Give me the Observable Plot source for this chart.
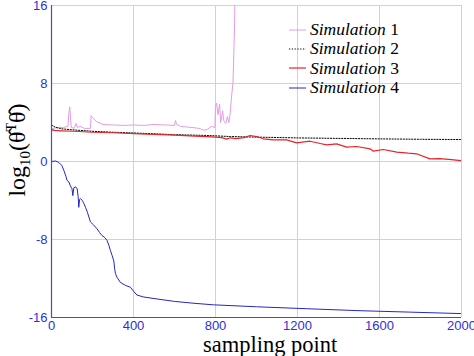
<!DOCTYPE html>
<html>
<head>
<meta charset="utf-8">
<script src="https://cdn.jsdelivr.net/npm/d3@7"></script>
<script src="https://cdn.jsdelivr.net/npm/@observablehq/plot@0.6"></script>
<style>
  html, body { margin: 0; padding: 0; background: #fff; }
  #wrap { position: relative; width: 474px; height: 356px; overflow: hidden; }
  .lbl { position: absolute; font-family: "Liberation Serif", serif; color: #000; white-space: nowrap; }
  #legend { position: absolute; left: 289px; top: 20px; font-family: "Liberation Serif", serif; font-size: 17.5px; }
  #legend .row { display: flex; align-items: center; height: 19.3px; }
  #legend svg { margin-right: 4px; }
  #legend i { font-style: italic; }
</style>
</head>
<body>
<div id="wrap"></div>
<script>
// ---- data ----
const xTicks = [0, 400, 800, 1200, 1600, 2000];
const yTicks = [-16, -8, 0, 8, 16];
const seriesNames = ["Simulation 1", "Simulation 2", "Simulation 3", "Simulation 4"];

const sim1X = [0, 10, 30, 60, 80, 85, 89, 93, 96, 110, 120, 125, 140, 160, 190, 193, 200, 220, 250, 300, 350, 400, 450, 500, 550, 600, 605, 610, 630, 680, 720, 745, 760, 780, 797, 800, 805, 812, 820, 825, 835, 840, 850, 858, 865, 872, 878, 885, 888, 893, 897];
const sim1Y = [3.0, 3.4, 3.5, 3.5, 3.6, 5.0, 5.6, 4.5, 3.5, 3.4, 3.9, 3.5, 3.6, 3.4, 3.4, 4.7, 4.5, 4.1, 3.8, 3.75, 3.7, 3.75, 3.7, 3.8, 3.75, 3.7, 4.2, 3.8, 3.6, 3.5, 3.4, 3.2, 3.3, 3.6, 3.5, 5.6, 6.0, 4.8, 5.9, 4.0, 5.2, 4.2, 3.9, 4.6, 4.0, 5.0, 6.6, 8.0, 10.0, 14.0, 20.0];

const sim2X = [0, 20, 50, 100, 200, 300, 433, 600, 758, 872, 1000, 1200, 1400, 1600, 1800, 2000];
const sim2Y = [3.75, 3.5, 3.35, 3.25, 3.1, 3.0, 2.9, 2.75, 2.67, 2.56, 2.5, 2.42, 2.37, 2.32, 2.28, 2.25];

const sim3X = [0, 10, 50, 109, 200, 300, 433, 600, 700, 758, 800, 830, 855, 872, 900, 940, 969, 1001, 1034, 1083, 1147, 1196, 1261, 1310, 1343, 1391, 1440, 1489, 1554, 1570, 1619, 1684, 1740, 1781, 1846, 1895, 1950, 2000];
const sim3Y = [3.35, 3.2, 3.15, 3.1, 3.0, 2.95, 2.84, 2.7, 2.6, 2.56, 2.5, 2.45, 2.3, 2.43, 2.35, 2.45, 2.67, 2.56, 2.33, 2.22, 2.22, 1.91, 2.08, 1.85, 1.71, 1.81, 1.47, 1.54, 1.3, 1.06, 1.23, 0.96, 0.85, 0.79, 0.27, 0.3, 0.2, 0.08];

const sim4X = [0, 20, 36, 50, 60, 70, 76, 85, 92, 100, 104, 109, 118, 125, 130, 133, 137, 141, 150, 158, 166, 175, 190, 205, 222, 235, 247, 260, 271, 280, 287, 295, 304, 308, 312, 320, 336, 360, 385, 400, 417, 450, 515, 600, 700, 790, 1000, 1245, 1500, 1750, 2000];
const sim4Y = [0, 0.05, -0.1, -0.4, -0.9, -1.5, -1.95, -2.1, -2.5, -2.8, -3.5, -2.7, -2.6, -2.8, -3.6, -4.7, -3.9, -3.8, -4.0, -4.3, -4.7, -5.2, -6.2, -6.5, -6.9, -7.3, -7.6, -7.8, -8.1, -8.6, -9.1, -9.6, -10.2, -11.0, -11.5, -11.9, -12.4, -12.7, -12.9, -13.3, -13.7, -13.9, -14.1, -14.35, -14.55, -14.7, -14.9, -15.1, -15.3, -15.45, -15.6];

// ---- styles ----
const styles = [
  {stroke: "#e49ce4", strokeWidth: 1, dash: null},
  {stroke: "#000000", strokeWidth: 1, dash: "1.2,1.6"},
  {stroke: "#e4262a", strokeWidth: 1.2, dash: null},
  {stroke: "#2626c4", strokeWidth: 1, dash: null}
];
const xs = [sim1X, sim2X, sim3X, sim4X];
const ys = [sim1Y, sim2Y, sim3Y, sim4Y];
const tables = xs.map((X, i) => X.map((x, j) => ({x, y: ys[i][j]})));

const axisBlue = "#4646e0";
const tickBlue = "#2f2fd6";
const fmt = d => String(d);

const chart = Plot.plot({
  width: 474,
  height: 356,
  marginLeft: 51,
  marginRight: 13,
  marginTop: 5,
  marginBottom: 39,
  style: {background: "#fff", overflow: "visible"},
  x: {domain: [0, 2000]},
  y: {domain: [-16, 16]},
  marks: [
    Plot.gridX(xTicks, {stroke: "#cfcfea", strokeOpacity: 1}),
    Plot.gridY(yTicks, {stroke: "#cfcfea", strokeOpacity: 1}),
    ...tables.map((t, i) => Plot.line(t, {
      x: "x", y: "y", clip: true,
      stroke: styles[i].stroke, strokeWidth: styles[i].strokeWidth,
      strokeDasharray: styles[i].dash
    })),
    Plot.ruleX([0], {stroke: axisBlue, strokeWidth: 1.2}),
    Plot.ruleY([-16], {stroke: axisBlue, strokeWidth: 1.2}),
    Plot.axisX(xTicks, {tickSize: 0, tickPadding: 3, label: null, tickFormat: fmt, fill: tickBlue, fontSize: 13, fontFamily: "Liberation Sans, Arial, sans-serif"}),
    Plot.axisY(yTicks, {tickSize: 0, tickPadding: 4, label: null, tickFormat: fmt, fill: tickBlue, fontSize: 13, fontFamily: "Liberation Sans, Arial, sans-serif"})
  ]
});

const wrap = document.getElementById("wrap");
wrap.appendChild(chart);

// axis labels
const xl = document.createElement("div");
xl.className = "lbl";
xl.style.cssText = "left:203px; top:334px; font-size:22.5px; line-height:21px;";
xl.textContent = "sampling point";
wrap.appendChild(xl);

const yl = document.createElement("div");
yl.className = "lbl";
yl.style.cssText = "left:19px; top:150px; font-size:24px; line-height:1; transform: translate(-50%,-50%) rotate(-90deg);";
yl.innerHTML = "log<sub style='font-size:15px'>10</sub>(θ̂<sup style='font-size:14px'>T</sup>θ̂)";
wrap.appendChild(yl);

// legend
const lg = document.createElement("div");
lg.id = "legend";
seriesNames.forEach((name, i) => {
  const row = document.createElement("div");
  row.className = "row";
  const s = styles[i];
  const parts = name.split(" ");
  row.innerHTML = `<svg width="17" height="4"><line x1="0" x2="17" y1="2" y2="2" stroke="${s.stroke}" stroke-width="${s.strokeWidth}" ${s.dash ? `stroke-dasharray="${s.dash}"` : ""}/></svg><span><i>${parts[0]}</i> ${parts[1]}</span>`;
  lg.appendChild(row);
});
wrap.appendChild(lg);
</script>
</body>
</html>
